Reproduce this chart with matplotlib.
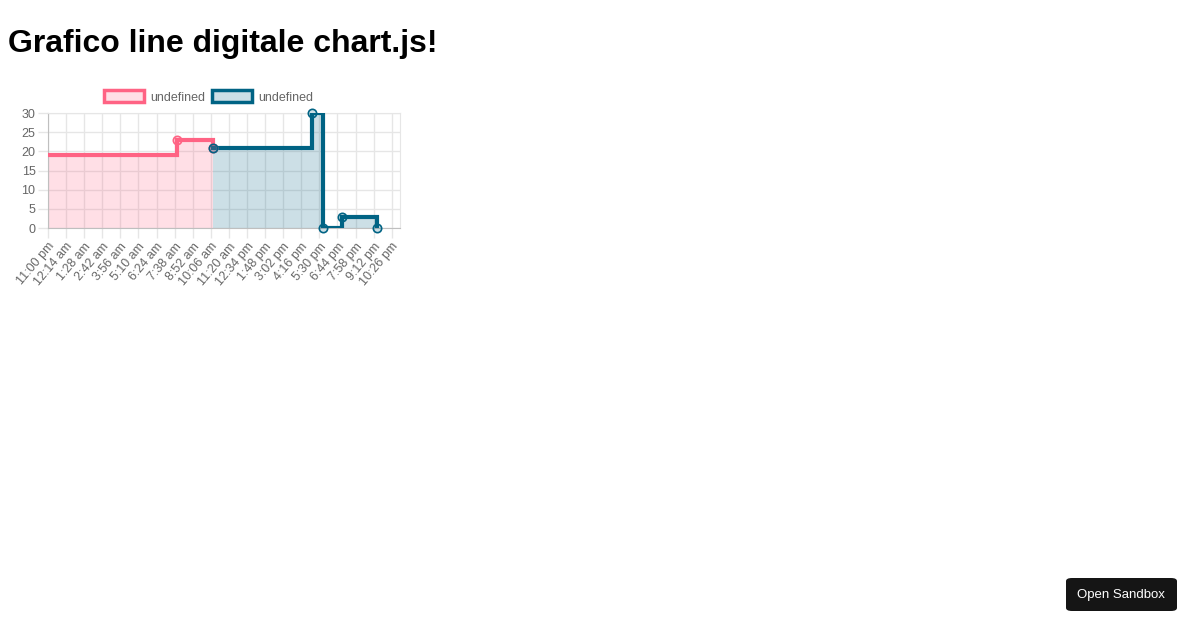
import matplotlib
matplotlib.use("Agg")
import matplotlib.pyplot as plt
from matplotlib.patches import Patch, FancyBboxPatch

plt.rcParams["font.family"] = ["Liberation Sans", "DejaVu Sans"]

# minutes after 11:00 pm
tick_minutes = list(range(0, 1440, 74))
tick_labels = ["11:00 pm", "12:14 am", "1:28 am", "2:42 am", "3:56 am", "5:10 am",
               "6:24 am", "7:38 am", "8:52 am", "10:06 am", "11:20 am", "12:34 pm",
               "1:48 pm", "3:02 pm", "4:16 pm", "5:30 pm", "6:44 pm", "7:58 pm",
               "9:12 pm", "10:26 pm"]

pink_x = [0, 529, 677]
pink_y = [19, 23, 21]
blue_x = [677, 1080, 1126, 1201, 1347]
blue_y = [21, 30, 0, 3, 0]

PINK = (1.0, 99/255, 132/255)
BLUE = (0.0, 99/255, 132/255)
GRID = "#e6e6e6"
ZERO = "#bfbfbf"
TXT = "#666666"

fig = plt.figure(figsize=(12, 6.3), dpi=100)
ax = fig.add_axes([48/1200, 1 - 228/630, 352/1200, 115/630])

for xs, ys, col, first in [(pink_x, pink_y, PINK, 1), (blue_x, blue_y, BLUE, 0)]:
    ax.fill_between(xs, ys, 0, step="post", color=col + (0.2,), lw=0)
    ax.step(xs, ys, where="post", color=col, lw=3, solid_joinstyle="miter", zorder=3)
    ax.plot(xs[first:], ys[first:], "o", ms=6, mfc=col + (0.2,), mec=col,
            mew=1.2, zorder=4, clip_on=False)

ax.set_xlim(0, 1440)
ax.set_ylim(0, 30)
ax.set_xticks(tick_minutes)
ax.set_xticklabels(tick_labels, rotation=50, ha="right", rotation_mode="anchor")
ax.set_yticks(range(0, 31, 5))
ax.grid(True, color=GRID, lw=1, alpha=1)
ax.set_axisbelow(True)
ax.tick_params(axis="both", colors=GRID, labelcolor=TXT, labelsize=9,
               length=7, width=1, pad=2)
for s in ["top", "right"]:
    ax.spines[s].set_color(GRID)
for s in ["left", "bottom"]:
    ax.spines[s].set_color(ZERO)

handles = [Patch(facecolor=PINK + (0.2,), edgecolor=PINK, lw=2.5, label="undefined"),
           Patch(facecolor=BLUE + (0.2,), edgecolor=BLUE, lw=2.5, label="undefined")]
fig.legend(handles=handles, loc="center", bbox_to_anchor=(209/1200, 1 - 97/630),
           ncol=2, frameon=False, fontsize=9, labelcolor=TXT, handlelength=3.2,
           handleheight=1.1, handletextpad=0.5, columnspacing=0.55)

fig.text(8/1200, 1 - 52/630, "Grafico line digitale chart.js!", fontsize=23,
         fontweight="bold", color="black", ha="left", va="baseline")

fig.patches.append(FancyBboxPatch((1066/1200, 1 - 611/630), 111/1200, 33/630,
                                  boxstyle="round,pad=0,rounding_size=0.005",
                                  transform=fig.transFigure, facecolor="#151515",
                                  edgecolor="none"))
fig.text(1121/1200, 1 - 595/630, "Open Sandbox", fontsize=9.5, color="white",
         ha="center", va="center")

fig.savefig("out.png", dpi=100)
